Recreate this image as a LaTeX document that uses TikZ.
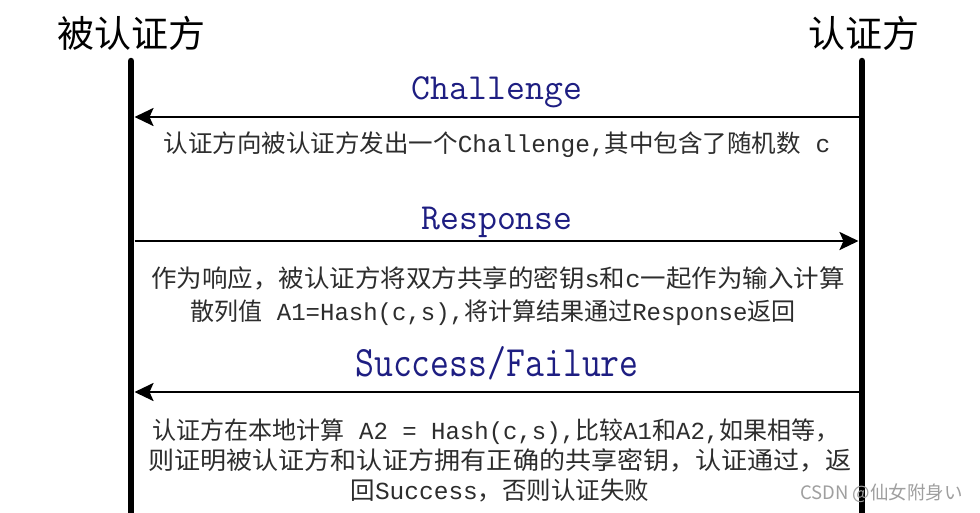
\documentclass[tikz,border=0pt]{standalone}
\usepackage{fontspec}
\setmainfont{Liberation Serif}
\newfontfamily\cjk{Noto Sans CJK SC}
\newfontfamily\latf{Liberation Mono}
\newcommand\lt[1]{{\latf #1}}
\newcommand\hs[2]{\scalebox{#1}[1]{#2}}
\usetikzlibrary{arrows.meta}
\definecolor{navy}{RGB}{30,30,130}
\definecolor{desctext}{RGB}{45,45,45}
\begin{document}
\begin{tikzpicture}[x=1pt,y=-1pt,
  lifeline/.style={line width=6.5pt,line cap=round},
  msg/.style={line width=2.6pt,-{Stealth[length=19pt,width=18pt,inset=4pt]}},
  title/.style={font=\cjk\fontsize{37}{40}\selectfont,text=black,inner sep=0pt},
  msglabel/.style={font=\ttfamily\fontsize{36.7}{40}\selectfont,text=navy,inner sep=0pt,anchor=base},
  desc/.style={font=\cjk\fontsize{24.5}{30}\selectfont,text=desctext,inner sep=0pt,anchor=base}
]
\useasboundingbox (0,0) rectangle (980,512);
\fill[white] (0,0) rectangle (980,512);

% participants
\node[title] (P) at (131,33) {被认证方};
\node[title] (V) at (864,33) {认证方};
\coordinate (Ptop) at (131,61);
\coordinate (Pbot) at (131,516);
\coordinate (Vtop) at (862,61);
\coordinate (Vbot) at (862,516);
\draw[lifeline] (Ptop) -- (Pbot);
\draw[lifeline] (Vtop) -- (Vbot);

% message 1
\coordinate (P1) at (134.5,117);
\coordinate (V1) at (858.5,117);
\draw[msg] (V1) -- (P1);
\node[msglabel] (L1) at (497,99) {Challenge};
\node[desc] (D1) at (497,152) {认证方向被认证方发出一个\lt{Challenge,}其中包含了随机数\lt{ c}};

% message 2
\coordinate (P2) at (134.5,241);
\coordinate (V2) at (858.5,241);
\draw[msg] (P2) -- (V2);
\node[msglabel] (L2) at (497,229) {Response};
\node[desc] (D2a) at (498,287) {\hs{1.04}{作为响应，被认证方将双方共享的密钥\lt{s}和\lt{c}一起作为输入计算}};
\node[desc] (D2b) at (493,320) {\hs{0.98}{散列值\lt{ A1=Hash(c,s),}将计算结果通过\lt{Response}返回}};

% message 3
\coordinate (P3) at (134.5,392);
\coordinate (V3) at (858.5,392);
\draw[msg] (V3) -- (P3);
\node[msglabel] (L3) at (497,376) {\scalebox{1}[1.18]{Success/Failure}};
\node[desc] (D3a) at (496,439) {\hs{0.98}{认证方在本地计算\lt{ A2 = Hash(c,s),}比较\lt{A1}和\lt{A2,}如果相等，}};
\node[desc] (D3b) at (500,469) {\hs{1.063}{则证明被认证方和认证方拥有正确的共享密钥，认证通过，返}};
\node[desc] (D3c) at (500,499) {回\lt{Success}，否则认证失败};

% watermark
\node[font=\cjk\fontsize{18.5}{20}\selectfont,text=gray!75,inner sep=0pt,anchor=base west] (W) at (800,499) {CSDN @仙女附身い};
\end{tikzpicture}
\end{document}
